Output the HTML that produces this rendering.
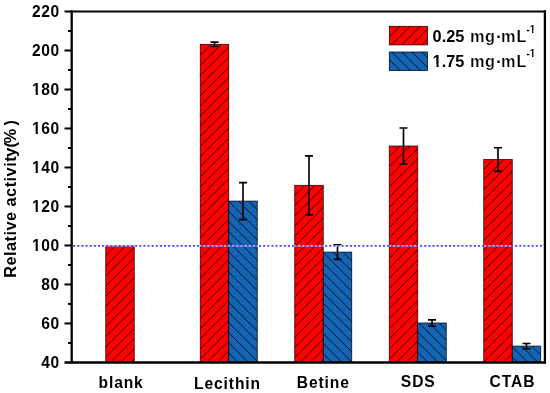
<!DOCTYPE html>
<html><head><meta charset="utf-8"><style>
html,body{margin:0;padding:0;background:#fff;}
svg{display:block;}
text{font-family:"Liberation Sans",Arial,sans-serif;font-weight:bold;fill:#000;}
.t{font-size:15.6px;letter-spacing:0.6px;}
.c{font-size:15.6px;letter-spacing:0.9px;}
.yl{font-size:16.3px;}
.lg{font-size:16.3px;}
.sup{font-size:10px;}
</style></head><body>
<svg width="550" height="393" viewBox="0 0 550 393">
<defs>
<pattern id="r0" patternUnits="userSpaceOnUse" width="10.13" height="10.13" patternTransform="translate(115.45,246.00)"><rect width="10.13" height="10.13" fill="#ff0000"/><path d="M-1,1L1,-1M0,10.13L10.13,0M9.13,11.13L11.13,9.13" stroke="#000" stroke-width="0.85"/></pattern>
<pattern id="r1" patternUnits="userSpaceOnUse" width="10.13" height="10.13" patternTransform="translate(211.15,44.30)"><rect width="10.13" height="10.13" fill="#ff0000"/><path d="M-1,1L1,-1M0,10.13L10.13,0M9.13,11.13L11.13,9.13" stroke="#000" stroke-width="0.85"/></pattern>
<pattern id="b1" patternUnits="userSpaceOnUse" width="10.1" height="10.1" patternTransform="translate(228.75,201.40)"><rect width="10.1" height="10.1" fill="#1464b4"/><path d="M0,0L10.1,10.1M-1,9.1L1,11.1M9.1,-1L11.1,1" stroke="#000" stroke-width="0.85"/></pattern>
<pattern id="r2" patternUnits="userSpaceOnUse" width="10.13" height="10.13" patternTransform="translate(304.95,185.30)"><rect width="10.13" height="10.13" fill="#ff0000"/><path d="M-1,1L1,-1M0,10.13L10.13,0M9.13,11.13L11.13,9.13" stroke="#000" stroke-width="0.85"/></pattern>
<pattern id="b2" patternUnits="userSpaceOnUse" width="10.1" height="10.1" patternTransform="translate(323.25,252.60)"><rect width="10.1" height="10.1" fill="#1464b4"/><path d="M0,0L10.1,10.1M-1,9.1L1,11.1M9.1,-1L11.1,1" stroke="#000" stroke-width="0.85"/></pattern>
<pattern id="r3" patternUnits="userSpaceOnUse" width="10.13" height="10.13" patternTransform="translate(399.95,146.00)"><rect width="10.13" height="10.13" fill="#ff0000"/><path d="M-1,1L1,-1M0,10.13L10.13,0M9.13,11.13L11.13,9.13" stroke="#000" stroke-width="0.85"/></pattern>
<pattern id="b3" patternUnits="userSpaceOnUse" width="10.1" height="10.1" patternTransform="translate(417.75,321.80)"><rect width="10.1" height="10.1" fill="#1464b4"/><path d="M0,0L10.1,10.1M-1,9.1L1,11.1M9.1,-1L11.1,1" stroke="#000" stroke-width="0.85"/></pattern>
<pattern id="r4" patternUnits="userSpaceOnUse" width="10.13" height="10.13" patternTransform="translate(493.65,159.50)"><rect width="10.13" height="10.13" fill="#ff0000"/><path d="M-1,1L1,-1M0,10.13L10.13,0M9.13,11.13L11.13,9.13" stroke="#000" stroke-width="0.85"/></pattern>
<pattern id="b4" patternUnits="userSpaceOnUse" width="10.1" height="10.1" patternTransform="translate(512.25,346.80)"><rect width="10.1" height="10.1" fill="#1464b4"/><path d="M0,0L10.1,10.1M-1,9.1L1,11.1M9.1,-1L11.1,1" stroke="#000" stroke-width="0.85"/></pattern>
<pattern id="lr" patternUnits="userSpaceOnUse" width="10.13" height="10.13" patternTransform="translate(400.50,25.80)"><rect width="10.13" height="10.13" fill="#ff0000"/><path d="M-1,1L1,-1M0,10.13L10.13,0M9.13,11.13L11.13,9.13" stroke="#000" stroke-width="0.85"/></pattern>
<pattern id="lb" patternUnits="userSpaceOnUse" width="10.1" height="10.1" patternTransform="translate(389.30,59.60)"><rect width="10.1" height="10.1" fill="#1464b4"/><path d="M0,0L10.1,10.1M-1,9.1L1,11.1M9.1,-1L11.1,1" stroke="#000" stroke-width="0.85"/></pattern>
</defs>
<rect width="550" height="393" fill="#fff"/>
<rect x="105.75" y="246.00" width="28.50" height="116.45" fill="url(#r0)" stroke="#200" stroke-width="0.75"/>
<rect x="200.25" y="44.30" width="28.50" height="318.15" fill="url(#r1)" stroke="#200" stroke-width="0.75"/>
<rect x="228.75" y="201.10" width="28.50" height="161.35" fill="url(#b1)" stroke="#001" stroke-width="0.75"/>
<rect x="294.75" y="185.30" width="28.50" height="177.15" fill="url(#r2)" stroke="#200" stroke-width="0.75"/>
<rect x="323.25" y="252.10" width="28.50" height="110.35" fill="url(#b2)" stroke="#001" stroke-width="0.75"/>
<rect x="389.25" y="146.00" width="28.50" height="216.45" fill="url(#r3)" stroke="#200" stroke-width="0.75"/>
<rect x="417.75" y="323.00" width="28.50" height="39.45" fill="url(#b3)" stroke="#001" stroke-width="0.75"/>
<rect x="483.75" y="159.50" width="28.50" height="202.95" fill="url(#r4)" stroke="#200" stroke-width="0.75"/>
<rect x="512.25" y="346.10" width="28.50" height="16.35" fill="url(#b4)" stroke="#001" stroke-width="0.75"/>
<path d="M214.50,42.10V46.50M210.50,42.10h8M210.50,46.50h8" stroke="#000" stroke-width="1.65" fill="none"/>
<path d="M243.00,182.60V219.60M239.00,182.60h8M239.00,219.60h8" stroke="#000" stroke-width="1.65" fill="none"/>
<path d="M309.00,155.80V214.80M305.00,155.80h8M305.00,214.80h8" stroke="#000" stroke-width="1.65" fill="none"/>
<path d="M337.50,244.90V259.30M333.50,244.90h8M333.50,259.30h8" stroke="#000" stroke-width="1.65" fill="none"/>
<path d="M403.50,128.00V164.00M399.50,128.00h8M399.50,164.00h8" stroke="#000" stroke-width="1.65" fill="none"/>
<path d="M432.00,319.90V326.10M428.00,319.90h8M428.00,326.10h8" stroke="#000" stroke-width="1.65" fill="none"/>
<path d="M498.00,147.70V171.30M494.00,147.70h8M494.00,171.30h8" stroke="#000" stroke-width="1.65" fill="none"/>
<path d="M526.50,343.50V348.70M522.50,343.50h8M522.50,348.70h8" stroke="#000" stroke-width="1.65" fill="none"/>
<path d="M73.2,245.87H542.9" stroke="#fff" stroke-width="1.4" stroke-opacity="0.85"/>
<path d="M73.2,245.87H542.9" stroke="#4646f2" stroke-width="1.6" stroke-dasharray="2 2.13"/>
<path d="M71.7,11.5V362.45M544.9,11.5V362.45" stroke="#000" stroke-width="2.3" stroke-linecap="square"/>
<path d="M64.5,11.5H546.05" stroke="#000" stroke-width="2.2"/>
<path d="M64.5,362.45H546.05" stroke="#000" stroke-width="2.6"/>
<text x="59.9" y="368.15" text-anchor="end" class="t">40</text>
<path d="M68.00,342.95H71.7" stroke="#000" stroke-width="2"/>
<path d="M64.50,323.46H71.7" stroke="#000" stroke-width="2"/>
<text x="59.9" y="329.16" text-anchor="end" class="t">60</text>
<path d="M68.00,303.96H71.7" stroke="#000" stroke-width="2"/>
<path d="M64.50,284.46H71.7" stroke="#000" stroke-width="2"/>
<text x="59.9" y="290.16" text-anchor="end" class="t">80</text>
<path d="M68.00,264.96H71.7" stroke="#000" stroke-width="2"/>
<path d="M64.50,245.47H71.7" stroke="#000" stroke-width="2"/>
<text x="59.9" y="251.17" text-anchor="end" class="t">100</text>
<path d="M68.00,225.97H71.7" stroke="#000" stroke-width="2"/>
<path d="M64.50,206.47H71.7" stroke="#000" stroke-width="2"/>
<text x="59.9" y="212.17" text-anchor="end" class="t">120</text>
<path d="M68.00,186.97H71.7" stroke="#000" stroke-width="2"/>
<path d="M64.50,167.48H71.7" stroke="#000" stroke-width="2"/>
<text x="59.9" y="173.18" text-anchor="end" class="t">140</text>
<path d="M68.00,147.98H71.7" stroke="#000" stroke-width="2"/>
<path d="M64.50,128.48H71.7" stroke="#000" stroke-width="2"/>
<text x="59.9" y="134.18" text-anchor="end" class="t">160</text>
<path d="M68.00,108.99H71.7" stroke="#000" stroke-width="2"/>
<path d="M64.50,89.49H71.7" stroke="#000" stroke-width="2"/>
<text x="59.9" y="95.19" text-anchor="end" class="t">180</text>
<path d="M68.00,69.99H71.7" stroke="#000" stroke-width="2"/>
<path d="M64.50,50.49H71.7" stroke="#000" stroke-width="2"/>
<text x="59.9" y="56.19" text-anchor="end" class="t">200</text>
<path d="M68.00,31.00H71.7" stroke="#000" stroke-width="2"/>
<text x="59.9" y="17.20" text-anchor="end" class="t">220</text>
<text x="121.10" y="387.6" text-anchor="middle" class="c" letter-spacing="0.9">blank</text>
<text x="227.55" y="389.0" text-anchor="middle" class="c" letter-spacing="0.78">Lecithin</text>
<text x="323.25" y="387.5" text-anchor="middle" class="c" letter-spacing="0.9">Betine</text>
<text x="418.25" y="387.0" text-anchor="middle" class="c" letter-spacing="0.9">SDS</text>
<text x="512.45" y="387.3" text-anchor="middle" class="c" letter-spacing="1.6">CTAB</text>
<text class="yl" letter-spacing="0.49" transform="translate(16.0,277.8) rotate(-90)">Relative activit<tspan dx="-0.9">y</tspan><tspan dx="-0.3">(</tspan><tspan dx="-1.5">%</tspan><tspan dx="2.7">)</tspan></text>
<rect x="389.3" y="26.3" width="38.2" height="18.6" fill="url(#lr)" stroke="#200" stroke-width="0.75"/>
<rect x="389.3" y="52" width="38.2" height="18.6" fill="url(#lb)" stroke="#001" stroke-width="0.75"/>
<text class="lg" x="432.6" y="42.1">0.25</text>
<text class="lg" x="469.9 485.1 496.2 500.9 516.6" y="42.1"><tspan stroke="#fff" stroke-width="0.22">mg</tspan>·<tspan stroke="#fff" stroke-width="0.22">mL</tspan></text>
<text class="sup" x="526.4" y="32.5">-1</text>
<text class="lg" x="432.6" y="67.0">1.75</text>
<text class="lg" x="469.9 485.1 496.2 500.9 516.6" y="67.0"><tspan stroke="#fff" stroke-width="0.22">mg</tspan>·<tspan stroke="#fff" stroke-width="0.22">mL</tspan></text>
<text class="sup" x="526.4" y="57.4">-1</text>
<rect x="529.56" y="30.48" width="2.50" height="3.02" fill="#fff"/>
<rect x="533.44" y="30.48" width="2.38" height="3.02" fill="#fff"/>
<rect x="529.56" y="55.38" width="2.50" height="3.02" fill="#fff"/>
<rect x="533.44" y="55.38" width="2.38" height="3.02" fill="#fff"/>
<rect x="432.83" y="64.34" width="3.58" height="3.66" fill="#fff"/>
<rect x="438.64" y="64.34" width="3.37" height="3.66" fill="#fff"/>
<rect x="32.25" y="248.57" width="3.46" height="3.59" fill="#fff"/>
<rect x="37.85" y="248.57" width="3.26" height="3.59" fill="#fff"/>
<rect x="32.25" y="209.58" width="3.46" height="3.59" fill="#fff"/>
<rect x="37.85" y="209.58" width="3.26" height="3.59" fill="#fff"/>
<rect x="32.25" y="170.59" width="3.46" height="3.59" fill="#fff"/>
<rect x="37.85" y="170.59" width="3.26" height="3.59" fill="#fff"/>
<rect x="32.25" y="131.59" width="3.46" height="3.59" fill="#fff"/>
<rect x="37.85" y="131.59" width="3.26" height="3.59" fill="#fff"/>
<rect x="32.25" y="92.60" width="3.46" height="3.59" fill="#fff"/>
<rect x="37.85" y="92.60" width="3.26" height="3.59" fill="#fff"/>
</svg>
</body></html>
